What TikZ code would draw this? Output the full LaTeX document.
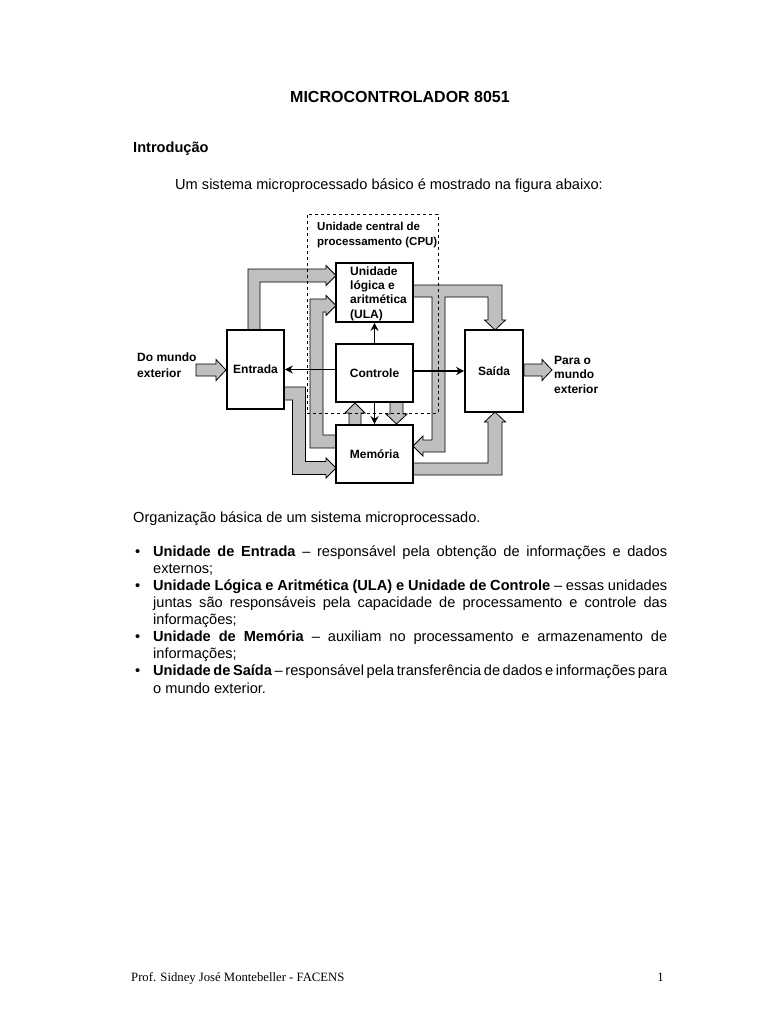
\documentclass[tikz,border=0pt]{standalone}
\usepackage{fontspec}
\setmainfont{Liberation Sans}
\newfontfamily\footfont{Liberation Serif}
\usetikzlibrary{arrows.meta}

\newcommand{\diagfont}{\fontsize{12}{14.3}\selectfont\bfseries}
\newcommand{\bodyfont}{\fontsize{14.6}{17.125}\selectfont}

\tikzset{
  unitbox/.style={draw, line width=1.6pt, fill=white, inner sep=0pt, font=\diagfont},
  fat/.style={draw=black, line width=0.8pt, fill=black!25},
  ctrl/.style={-{Stealth[length=8pt,width=8pt]}, line width=1.2pt},
  lbl/.style={font=\diagfont, align=left, inner sep=0pt, anchor=base west},
  txt/.style={font=\bodyfont, inner sep=0pt, anchor=base west},
  bullettext/.style={font=\bodyfont, inner sep=0pt, text width=514pt, align=justify, anchor=base west,
    execute at begin node={\spaceskip=0.278em plus 0.3em minus 0.15em\relax}},
}

\begin{document}
\begin{tikzpicture}[x=1pt, y=-1pt]
    % Page
    \fill[white] (0,0) rectangle (768,1024);
    \useasboundingbox (0,0) rectangle (768,1024);

    % Header texts
    \node[font=\fontsize{16}{18}\selectfont\bfseries, inner sep=0pt, anchor=base] (title) at (400,102.7) {MICROCONTROLADOR 8051};
    \node[txt, font=\bodyfont\bfseries] (intro) at (133,153) {Introdução};
    \node[txt] (lead) at (175,190) {Um sistema microprocessado básico é mostrado na figura abaixo:};

    % Wide data paths
    % entrada -> ula
    \draw[fat] (248,330) -- (248,269) -- (326,269) -- (326,265.5) -- (336,275.5)
        -- (326,285.5) -- (326,282) -- (260,282) -- (260,330) -- cycle;
    % memoria -> ula
    \draw[fat] (336,435) -- (323,435) -- (323,312) -- (326,312) -- (326,315.5)
        -- (336,305.5) -- (326,295.5) -- (326,299) -- (310,299) -- (310,448) -- (336,448) -- cycle;
    % entrada -> memoria
    \draw[fat] (284,387) -- (305.5,387) -- (305.5,461.5) -- (326,461.5) -- (326,458)
        -- (336,468) -- (326,478) -- (326,474.5) -- (292.5,474.5) -- (292.5,400) -- (284,400) -- cycle;
    % memoria <-> controle
    \draw[fat] (349,425) -- (349,413) -- (345,413) -- (355,403) -- (365,413) -- (361,413) -- (361,425) -- cycle;
    \draw[fat] (390,402) -- (390,414) -- (386,414) -- (396.5,424) -- (407,414) -- (403,414) -- (403,402) -- cycle;
    % ula -> saida and ula -> memoria
    \draw[fat] (413,285) -- (502,285) -- (502,320) -- (505.5,320) -- (495,330) -- (484.5,320)
        -- (488,320) -- (488,297) -- (445,297) -- (445,452) -- (423,452) -- (423,456)
        -- (413,446) -- (423,436) -- (423,440) -- (432,440) -- (432,297) -- (413,297) -- cycle;
    % memoria -> saida
    \draw[fat] (413,463) -- (488,463) -- (488,422) -- (484.5,422) -- (495,412) -- (505.5,422)
        -- (502,422) -- (502,475) -- (413,475) -- cycle;
    % outside world
    \draw[fat] (196,364) -- (216,364) -- (216,359.5) -- (226,370) -- (216,380.5) -- (216,376) -- (196,376) -- cycle;
    \draw[fat] (524,364) -- (542,364) -- (542,359.5) -- (552,370) -- (542,380.5) -- (542,376) -- (524,376) -- cycle;

    % Units
    \node[unitbox, minimum width=57pt, minimum height=79pt] (entrada) at (255.5,369.5) {Entrada};
    \node[unitbox, minimum width=77pt, minimum height=59pt] (ula) at (374.5,292.5) {};
    \node[unitbox, minimum width=77pt, minimum height=58pt] (controle) at (374.5,373) {Controle};
    \node[unitbox, minimum width=77pt, minimum height=58pt] (memoria) at (374.5,454) {Memória};
    \node[unitbox, minimum width=58pt, minimum height=82pt] (saida) at (494,371) {Saída};
    \node[lbl] (ulatxt) at (350,318) {Unidade\\lógica e\\aritmética\\(ULA)};

    % Control lines
    \draw[ctrl] (controle.north) -- (ula.south);
    \draw[ctrl] (controle.south) -- (memoria.north);
    \draw[ctrl] (controle.west |- entrada.east) -- (entrada.east);
    \draw[ctrl] (controle.east |- saida.west) -- (saida.west);

    % CPU boundary
    \node[draw, dashed, line width=0.8pt, inner sep=0pt, minimum width=131pt, minimum height=199pt] (cpu) at (372.5,313.5) {};
    \node[lbl, font=\fontsize{11.5}{15.5}\selectfont\bfseries] (cputxt) at (317,245.5) {Unidade central de\\processamento (CPU)};

    % Outside world labels
    \node[lbl, font=\fontsize{12}{16}\selectfont\bfseries] (domundo) at (137,377) {Do mundo\\exterior};
    \node[lbl, font=\fontsize{12}{14.5}\selectfont\bfseries] (parao) at (554,393) {Para o\\mundo\\exterior};

    % Description
    \node[txt] (caption) at (133,522) {Organização básica de um sistema microprocessado.};
    \foreach \y in {556,590.3,641.6,675.9}
        \node[txt] at (135,\y) {•};
    \node[bullettext] (item1) at (153,556) {\textbf{Unidade de Entrada} – responsável pela obtenção de informações e dados\linebreak externos;};
    \node[bullettext] (item2) at (153,590.3) {\textbf{Unidade Lógica e Aritmética (ULA) e Unidade de Controle} – essas unidades\linebreak juntas são responsáveis pela capacidade de processamento e controle das\linebreak informações;};
    \node[bullettext] (item3) at (153,641.6) {\textbf{Unidade de Memória} – auxiliam no processamento e armazenamento de\linebreak informações;};
    \node[bullettext] (item4) at (153,675.9) {\textbf{Unidade de Saída} – responsável pela transferência de dados e informações para\linebreak o mundo exterior.};

    % Footer
    \node[txt, font=\footfont\fontsize{12.7}{14}\selectfont] (author) at (131,981) {Prof. Sidney José Montebeller - FACENS};
    \node[inner sep=0pt, anchor=base east, font=\footfont\fontsize{12.7}{14}\selectfont] (page) at (664,981) {1};
\end{tikzpicture}
\end{document}
